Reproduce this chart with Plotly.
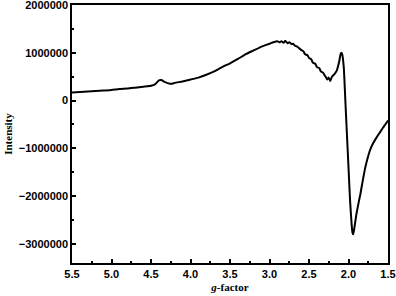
import plotly.graph_objects as go

g_factor = [5.50, 5.40, 5.30, 5.20, 5.10, 5.00, 4.90, 4.80, 4.70, 4.60, 4.50, 4.45, 4.40, 4.37, 4.33,
            4.28, 4.24, 4.20, 4.10, 4.00, 3.90, 3.80, 3.70, 3.60, 3.50, 3.40, 3.30, 3.20, 3.10, 3.00,
            2.95, 2.90, 2.87, 2.85, 2.82, 2.80, 2.77, 2.75, 2.72, 2.70, 2.68, 2.65, 2.62, 2.60, 2.57,
            2.55, 2.52, 2.50, 2.47, 2.45, 2.42, 2.40, 2.37, 2.35, 2.32, 2.30, 2.29, 2.27, 2.25, 2.23,
            2.21, 2.18, 2.15, 2.12, 2.10, 2.09, 2.08, 2.06, 2.04, 2.02, 2.00,
            1.98, 1.96, 1.95, 1.94, 1.92, 1.90, 1.87, 1.85, 1.82, 1.79, 1.76, 1.73, 1.69, 1.64, 1.60, 1.56, 1.53, 1.50]
intensity_m = [0.17, 0.18, 0.19, 0.20, 0.21, 0.22, 0.24, 0.25, 0.27, 0.29, 0.31, 0.34, 0.42, 0.43, 0.39,
               0.36, 0.35, 0.37, 0.40, 0.44, 0.48, 0.54, 0.61, 0.70, 0.78, 0.87, 0.97, 1.05, 1.13, 1.19,
               1.22, 1.24, 1.22, 1.24, 1.21, 1.25, 1.20, 1.22, 1.18, 1.19, 1.15, 1.13, 1.09, 1.06, 1.03,
               0.97, 0.95, 0.89, 0.86, 0.79, 0.77, 0.70, 0.68, 0.61, 0.58, 0.52, 0.50, 0.44, 0.48, 0.41,
               0.50, 0.55, 0.62, 0.80, 0.97, 1.00, 0.97, 0.70, 0.00, -0.70, -1.40,
               -2.10, -2.60, -2.76, -2.80, -2.60, -2.38, -2.12, -1.96, -1.68, -1.42, -1.22, -1.05, -0.90, -0.76, -0.66, -0.56, -0.49, -0.42]
intensity = [v * 1e6 for v in intensity_m]

y_ticks = [2000000, 1000000, 0, -1000000, -2000000, -3000000]
x_ticks = [5.5, 5.0, 4.5, 4.0, 3.5, 3.0, 2.5, 2.0, 1.5]

fig = go.Figure()
fig.add_trace(go.Scatter(x=g_factor, y=intensity, mode="lines",
                         line=dict(color="black", width=2, shape="spline", smoothing=0.5), showlegend=False))

tickfont = dict(family="Liberation Sans, Arial, sans-serif", size=11, color="black")
titlefont = dict(family="Liberation Serif, Times New Roman, serif", size=11, color="black")
fig.update_layout(
    width=396, height=296,
    margin=dict(l=72, r=8, t=5, b=33),
    paper_bgcolor="white", plot_bgcolor="white",
    xaxis=dict(range=[5.5, 1.5], tickvals=x_ticks, ticktext=[f"<b>{v:.1f}</b>" for v in x_ticks],
               automargin=False, ticklabeloverflow="allow",
               ticks="inside", ticklen=4, tickwidth=1.5, tickcolor="black",
               minor=dict(ticks="inside", ticklen=2.5, dtick=0.25, tick0=1.5, tickcolor="black", tickwidth=1.5),
               showline=True, linecolor="black", linewidth=1.5, mirror=True,
               showgrid=False, zeroline=False, tickfont=tickfont,
               title=dict(text="<b><i>g</i>-factor</b>", standoff=4, font=titlefont)),
    yaxis=dict(range=[-3400000, 2000000], tickvals=y_ticks,
               ticktext=[f"<b>{v}</b>".replace("-", "\u2212") for v in y_ticks],
               automargin=False, ticklabeloverflow="allow",
               ticks="inside", ticklen=4, tickwidth=1.5, tickcolor="black",
               minor=dict(ticks="inside", ticklen=2.5, dtick=500000, tick0=0, tickcolor="black", tickwidth=1.5),
               showline=True, linecolor="black", linewidth=1.5, mirror=True,
               showgrid=False, zeroline=False, tickfont=tickfont,
               title=dict(text="<b>Intensity</b>", standoff=4, font=titlefont)),
)

fig.write_html("out.html", config={"displayModeBar": False},
               post_script="document.body.style.margin='0';document.body.style.overflow='hidden';")
